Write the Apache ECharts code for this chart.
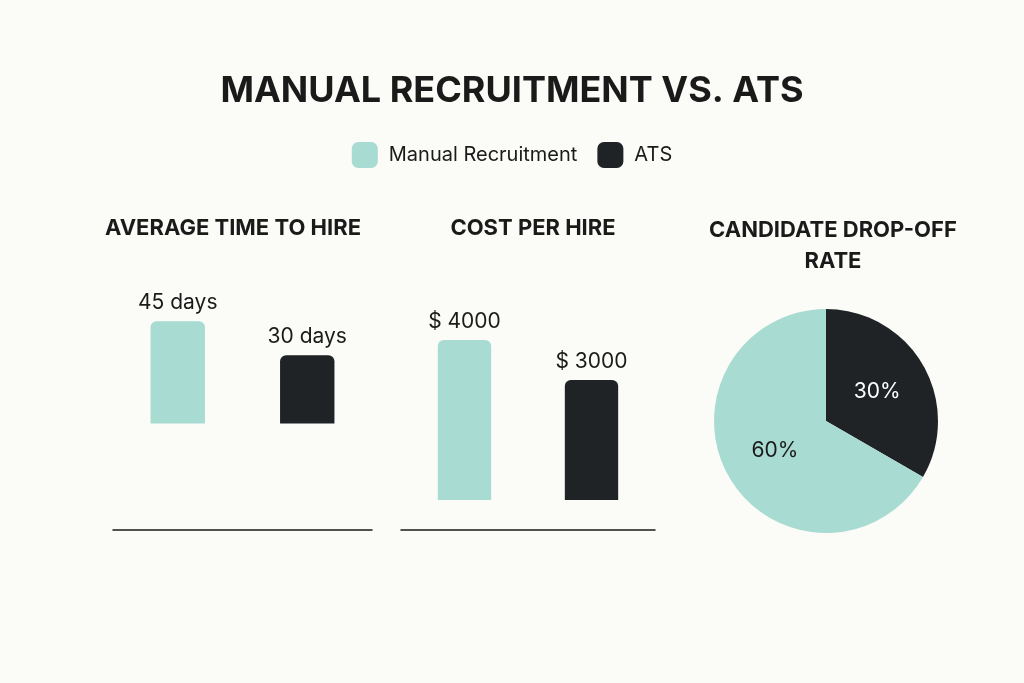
<!DOCTYPE html>
<html>
<head>
<meta charset="utf-8">
<script src="https://cdn.jsdelivr.net/npm/echarts@6/dist/echarts.min.js"></script>
<style>html,body{margin:0;background:#fbfbf7}#chart{width:1024px;height:683px}</style>
</head>
<body>
<div id="chart"></div>
<script>
var seriesNames = ['Manual Recruitment', 'ATS'];
var timeToHire = [45, 30];
var timeLabels = ['45 days', '30 days'];
var costPerHire = [4000, 3000];
var costLabels = ['$ 4000', '$ 3000'];
var dropOff = [60, 30];
var dropLabels = ['60%', '30%'];

var light = '#a8dbd1', dark = '#1f2326';
var font = 'Inter, "DejaVu Sans", sans-serif';

// base = invisible offset so bars start at the axis line (picture is not zero-based)
function barSeries(idx, vals, labels, base) {
    var out = [{
        type: 'bar', xAxisIndex: idx, yAxisIndex: idx, stack: 's' + idx, barGap: '-100%',
        data: [base, base], barWidth: '42%', itemStyle: {color: 'transparent'}, silent: true, tooltip: {show: false}
    }];
    vals.forEach(function (v, i) {
        var d = ['-', '-'];
        d[i] = {value: v, label: {formatter: labels[i]}};
        out.push({
            type: 'bar', name: seriesNames[i], xAxisIndex: idx, yAxisIndex: idx,
            data: d, stack: 's' + idx, barWidth: '42%',
            itemStyle: {color: i ? dark : light, borderRadius: [6, 6, 0, 0]},
            label: {show: true, position: 'top', distance: 8, fontSize: 21, color: '#1a1a1a', fontFamily: font}
        });
    });
    return out;
}

var chart = echarts.init(document.getElementById('chart'));
chart.setOption({
    backgroundColor: '#fbfbf7',
    textStyle: {fontFamily: font},
    title: [
        {text: 'MANUAL RECRUITMENT VS. ATS', left: 'center', top: 68, textStyle: {fontSize: 36, fontWeight: 'bold', color: '#1a1a1a', fontFamily: font}},
        {text: 'AVERAGE TIME TO HIRE', left: 228, textAlign: 'center', top: 212, textStyle: {fontSize: 22, fontWeight: 'bold', color: '#1a1a1a'}},
        {text: 'COST PER HIRE', left: 528, textAlign: 'center', top: 212, textStyle: {fontSize: 22, fontWeight: 'bold', color: '#1a1a1a'}},
        {text: 'CANDIDATE DROP-OFF\nRATE', left: 828, textAlign: 'center', top: 210, textStyle: {fontSize: 22, fontWeight: 'bold', color: '#1a1a1a', lineHeight: 31}}
    ],
    legend: {
        data: seriesNames, top: 137, left: 'center', icon: 'roundRect', itemWidth: 26, itemHeight: 26, itemGap: 20,
        textStyle: {fontSize: 20, color: '#1a1a1a', padding: [0, 0, 0, 6]}
    },
    grid: [
        {left: 113, width: 259, top: 310, bottom: 153},
        {left: 401, width: 254, top: 332, bottom: 153}
    ],
    xAxis: [0, 1].map(function (i) {
        return {type: 'category', gridIndex: i, data: ['a', 'b'], axisTick: {show: false}, axisLabel: {show: false},
            axisLine: {lineStyle: {color: '#1a1a1a', width: 1.5}}};
    }),
    yAxis: [
        {gridIndex: 0, min: 0, max: 97, show: false},
        {gridIndex: 1, min: 0, max: 4950, show: false}
    ],
    series: barSeries(0, timeToHire, timeLabels, 47).concat(barSeries(1, costPerHire, costLabels, 750)).concat([{
        type: 'pie', center: [826, 421], radius: 112, startAngle: 90, clockwise: true,
        legendHoverLink: false,
        data: [
            {value: dropOff[1], name: seriesNames[1], itemStyle: {color: dark}, label: {formatter: dropLabels[1], color: '#fff'}},
            {value: dropOff[0], name: seriesNames[0], itemStyle: {color: light}, label: {formatter: dropLabels[0], color: '#1a1a1a'}}
        ],
        label: {position: 'inside', fontSize: 21},
        labelLine: {show: false}
    }])
});
</script>
</body>
</html>
